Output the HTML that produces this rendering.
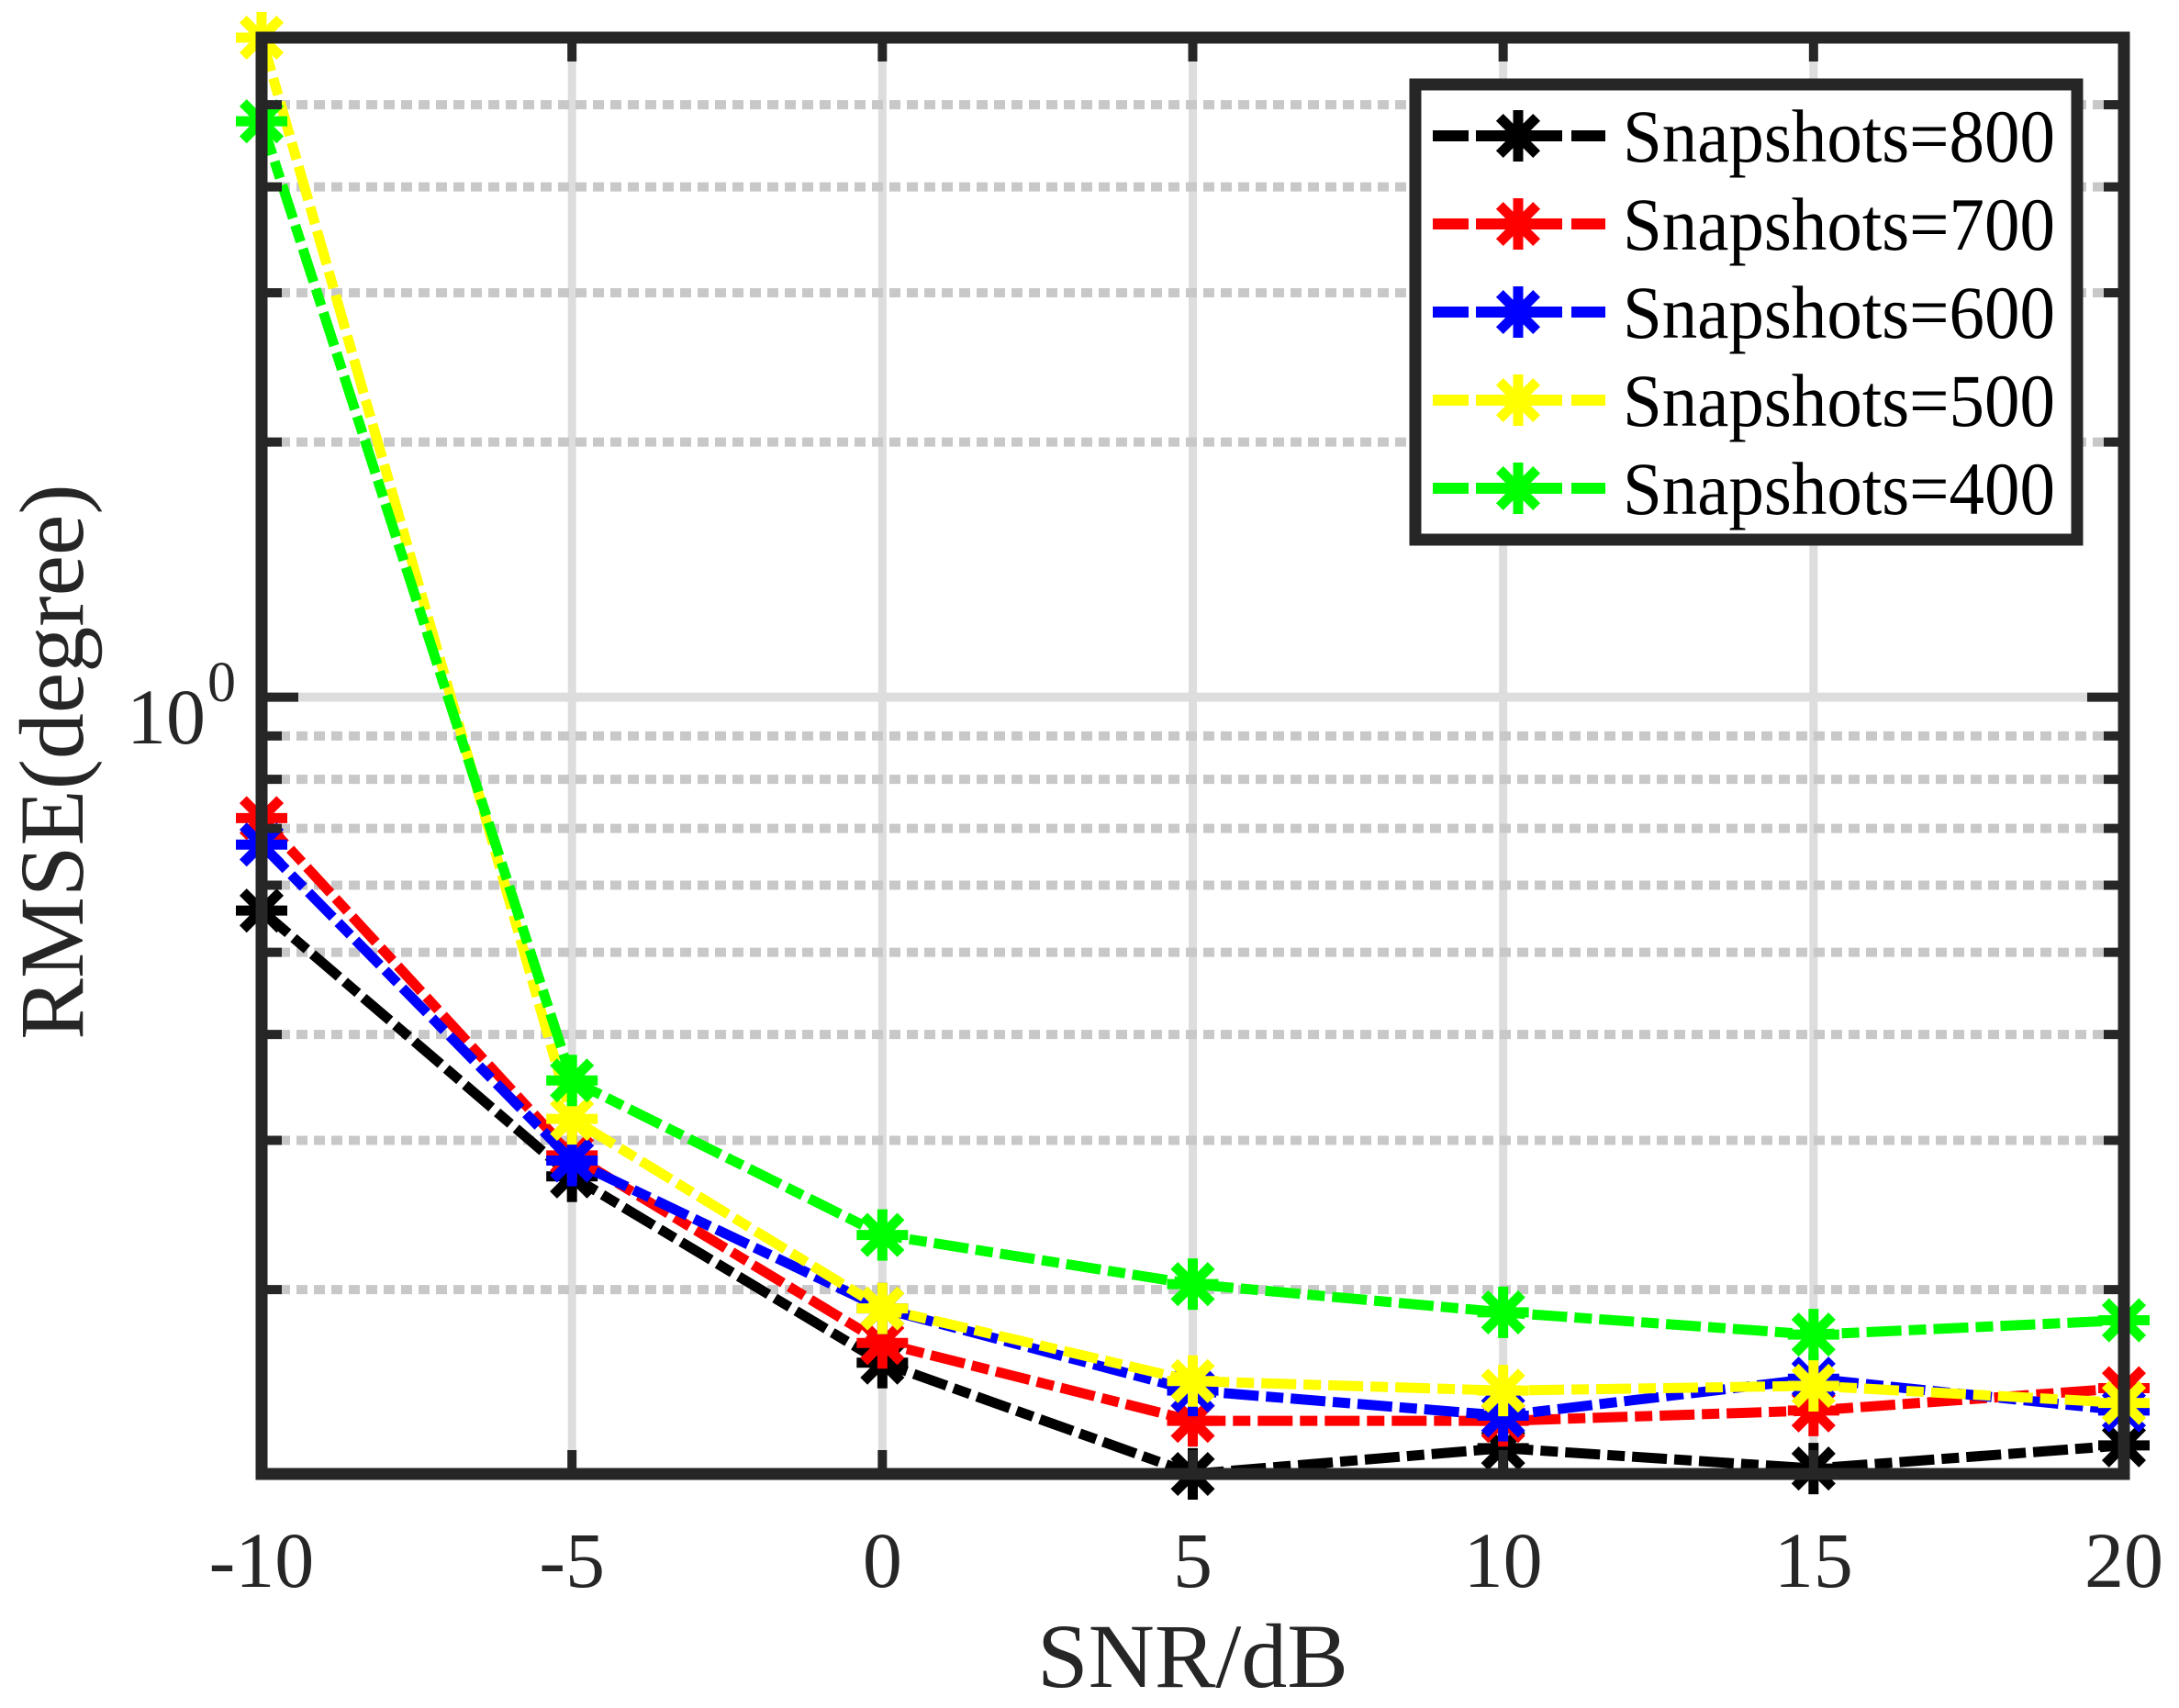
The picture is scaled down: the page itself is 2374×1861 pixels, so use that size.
<!DOCTYPE html>
<html><head><meta charset="utf-8"><style>
html,body{margin:0;padding:0;background:#fff;}
svg{display:block;font-family:"Liberation Serif","Times New Roman",serif;}
</style></head><body>
<svg id="chart" width="2374" height="1861" viewBox="0 0 2374 1861" xmlns="http://www.w3.org/2000/svg">
<g id="grid"></g>
<g id="series"></g>
<g id="axes"></g>
<g id="legend"></g>
</svg>
<script>
const snr = [-10, -5, 0, 5, 10, 15, 20];
const xTicks = [-10, -5, 0, 5, 10, 15, 20];
const yMinor = [0.2, 0.3, 0.4, 0.5, 0.6, 0.7, 0.8, 0.9, 2, 3, 4, 5];
const seriesNames = ["Snapshots=800", "Snapshots=700", "Snapshots=600", "Snapshots=500", "Snapshots=400"];
const seriesColors = ["#000000", "#ff0000", "#0000ff", "#ffff00", "#00ff00"];
const s800 = [0.56, 0.272, 0.164, 0.1212, 0.130, 0.123, 0.131];
const s700 = [0.72, 0.288, 0.173, 0.140, 0.140, 0.144, 0.153];
const s600 = [0.67, 0.284, 0.190, 0.152, 0.142, 0.157, 0.144];
const s500 = [6.0, 0.318, 0.190, 0.156, 0.152, 0.154, 0.147];
const s400 = [4.78, 0.353, 0.232, 0.203, 0.188, 0.177, 0.184];
const seriesData = [s800, s700, s600, s500, s400];

const L = 285, R = 2314, T = 41, B = 1606;
const xMin = -10, xMax = 20, yMin = 0.1212, yMax = 6;
const NS = "http://www.w3.org/2000/svg";
function X(v){ return L + (v - xMin) / (xMax - xMin) * (R - L); }
function Y(v){ return B - (Math.log10(v) - Math.log10(yMin)) / (Math.log10(yMax) - Math.log10(yMin)) * (B - T); }
function mk(tag, attrs, parent){ const e = document.createElementNS(NS, tag); for (const k in attrs) e.setAttribute(k, attrs[k]); parent.appendChild(e); return e; }

const grid = document.getElementById('grid');
xTicks.forEach(v => {
  const l = mk('line', {x1: X(v), x2: X(v), y1: T, y2: B, stroke: '#dddddd', 'stroke-width': 9}, grid);
  
  
});
yMinor.forEach(v => {
  const l = mk('line', {x1: L, x2: R, y1: Y(v), y2: Y(v), stroke: '#c8c8c8', 'stroke-width': 10, 'stroke-dasharray': '12 7'}, grid);
  
  
});
const g1 = mk('line', {x1: L, x2: R, y1: Y(1), y2: Y(1), stroke: '#dddddd', 'stroke-width': 10}, grid);



function star(parent, cx, cy, color, r){
  const g = mk('g', {stroke: color, 'stroke-width': 11}, parent);
  mk('line', {x1: cx - r, x2: cx + r, y1: cy, y2: cy}, g);
  mk('line', {x1: cx, x2: cx, y1: cy - r, y2: cy + r}, g);
  const d = r * 0.72;
  mk('line', {x1: cx - d, x2: cx + d, y1: cy - d, y2: cy + d}, g);
  mk('line', {x1: cx - d, x2: cx + d, y1: cy + d, y2: cy - d}, g);
  return g;
}

const ser = document.getElementById('series');
seriesData.forEach((arr, i) => {
  const g = mk('g', {}, ser);
  
  
  const pts = arr.map((v, j) => X(snr[j]) + ',' + Y(v)).join(' ');
  const pl = mk('polyline', {points: pts, fill: 'none', stroke: seriesColors[i], 'stroke-width': 11, 'stroke-dasharray': '38 8 19 8'}, g);
  
  
  arr.forEach((v, j) => {
    const m = star(g, X(snr[j]), Y(v), seriesColors[i], 28);
    
    
  });
});

const ax = document.getElementById('axes');
const frame = mk('rect', {x: L, y: T, width: R - L, height: B - T, fill: 'none', stroke: '#262626', 'stroke-width': 13}, ax);


xTicks.forEach(v => {
  mk('line', {x1: X(v), x2: X(v), y1: B, y2: B - 26, stroke: '#262626', 'stroke-width': 10}, ax);
  mk('line', {x1: X(v), x2: X(v), y1: T, y2: T + 26, stroke: '#262626', 'stroke-width': 10}, ax);
  const t = mk('text', {x: X(v), y: 1729, 'text-anchor': 'middle', 'font-size': 86, fill: '#262626'}, ax);
  t.textContent = String(v);
  
  
});
yMinor.concat([1]).forEach(v => {
  const len = v === 1 ? 40 : 22;
  mk('line', {x1: L, x2: L + len, y1: Y(v), y2: Y(v), stroke: '#262626', 'stroke-width': 10}, ax);
  mk('line', {x1: R, x2: R - len, y1: Y(v), y2: Y(v), stroke: '#262626', 'stroke-width': 10}, ax);
});
const yl = mk('text', {x: 224, y: 810, 'text-anchor': 'end', 'font-size': 86, fill: '#262626'}, ax);
yl.textContent = '10';


const ysup = mk('text', {x: 226, y: 764, 'font-size': 62, fill: '#262626'}, ax);
ysup.textContent = '0';


const xt = mk('text', {x: X(5), y: 1838, 'text-anchor': 'middle', 'font-size': 100, fill: '#262626'}, ax);
xt.textContent = 'SNR/dB';


const yt = mk('text', {x: 0, y: 0, 'text-anchor': 'middle', 'font-size': 100, fill: '#262626', transform: 'translate(90,830) rotate(-90)'}, ax);
yt.textContent = 'RMSE(degree)';



const lg = document.getElementById('legend');
const box = mk('rect', {x: 1542, y: 92, width: 721, height: 496, fill: '#fff', stroke: '#262626', 'stroke-width': 13}, lg);


seriesNames.forEach((name, i) => {
  const cy = 148 + i * 96;
  const g = mk('g', {}, lg);
  
  
  mk('line', {x1: 1561, x2: 1749, y1: cy, y2: cy, stroke: seriesColors[i], 'stroke-width': 12, 'stroke-dasharray': '39 8 94 10 39'}, g);
  star(g, 1654, cy, seriesColors[i], 28);
  const t = mk('text', {x: 1768, y: cy + 28, 'font-size': 82, fill: '#000', textLength: 471, lengthAdjust: 'spacingAndGlyphs'}, g);
  t.textContent = name;
});
</script>
</body></html>
